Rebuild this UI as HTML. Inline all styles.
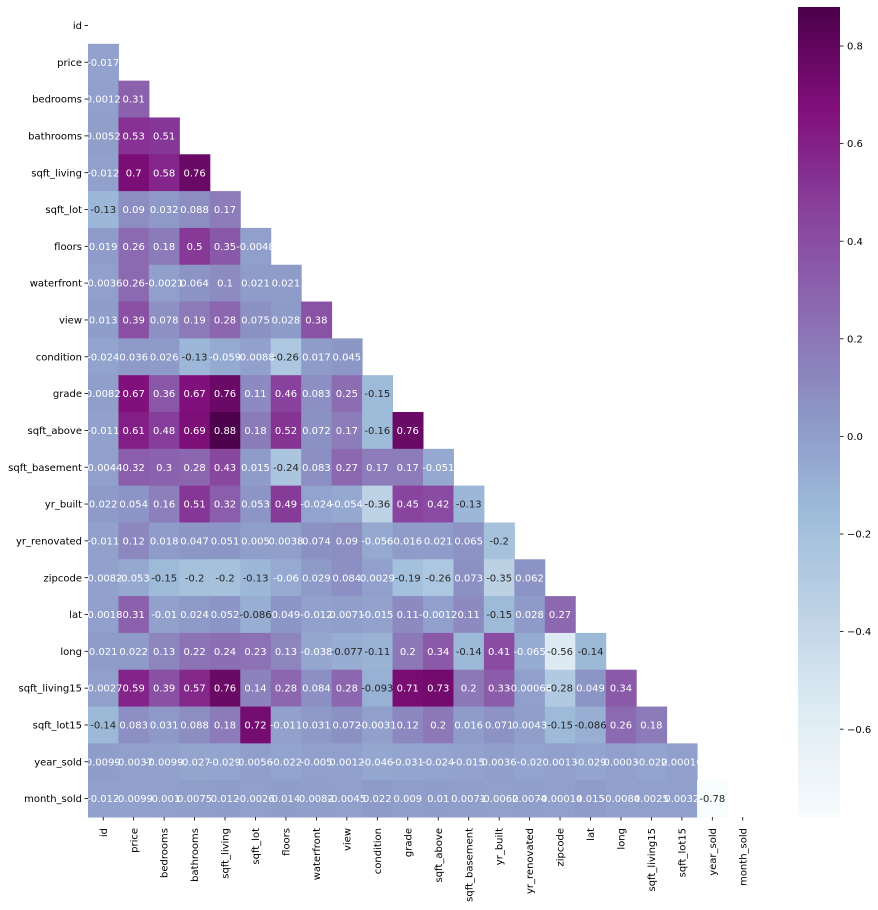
<!DOCTYPE html>
<html><head><meta charset="utf-8"><style>
html,body{margin:0;padding:0;background:#fff;}
svg{display:block;font-family:"DejaVu Sans","Liberation Sans",sans-serif;}
</style></head><body>
<svg id="chart" width="878" height="910" viewBox="0 0 878 910" xmlns="http://www.w3.org/2000/svg"></svg>
<script>
const labels = ["id","price","bedrooms","bathrooms","sqft_living","sqft_lot","floors","waterfront","view","condition","grade","sqft_above","sqft_basement","yr_built","yr_renovated","zipcode","lat","long","sqft_living15","sqft_lot15","year_sold","month_sold"];
const rowValues = [
 [],
 [-0.017],
 [0.0012,0.31],
 [0.0052,0.53,0.51],
 [-0.012,0.7,0.58,0.76],
 [-0.13,0.09,0.032,0.088,0.17],
 [0.019,0.26,0.18,0.5,0.35,-0.0048],
 [-0.0036,0.26,-0.0021,0.064,0.1,0.021,0.021],
 [0.013,0.39,0.078,0.19,0.28,0.075,0.028,0.38],
 [-0.024,0.036,0.026,-0.13,-0.059,-0.0088,-0.26,0.017,0.045],
 [0.0082,0.67,0.36,0.67,0.76,0.11,0.46,0.083,0.25,-0.15],
 [-0.011,0.61,0.48,0.69,0.88,0.18,0.52,0.072,0.17,-0.16,0.76],
 [-0.0044,0.32,0.3,0.28,0.43,0.015,-0.24,0.083,0.27,0.17,0.17,-0.051],
 [0.022,0.054,0.16,0.51,0.32,0.053,0.49,-0.024,-0.054,-0.36,0.45,0.42,-0.13],
 [-0.011,0.12,0.018,0.047,0.051,0.005,0.0038,0.074,0.09,-0.056,0.016,0.021,0.065,-0.2],
 [-0.0082,-0.053,-0.15,-0.2,-0.2,-0.13,-0.06,0.029,0.084,0.0029,-0.19,-0.26,0.073,-0.35,0.062],
 [-0.0018,0.31,-0.01,0.024,0.052,-0.086,0.049,-0.012,0.0071,-0.015,0.11,-0.0012,0.11,-0.15,0.028,0.27],
 [0.021,0.022,0.13,0.22,0.24,0.23,0.13,-0.038,-0.077,-0.11,0.2,0.34,-0.14,0.41,-0.065,-0.56,-0.14],
 [-0.0027,0.59,0.39,0.57,0.76,0.14,0.28,0.084,0.28,-0.093,0.71,0.73,0.2,0.33,-0.00066,-0.28,0.049,0.34],
 [-0.14,0.083,0.031,0.088,0.18,0.72,-0.011,0.031,0.072,-0.0031,0.12,0.2,0.016,0.071,0.0043,-0.15,-0.086,0.26,0.18],
 [0.0099,-0.0037,-0.0099,-0.027,-0.029,0.0056,-0.022,-0.005,0.0012,-0.046,-0.031,-0.024,-0.015,0.0036,-0.02,0.0013,-0.029,0.0003,-0.022,0.00016],
 [-0.012,-0.0099,-0.001,0.0075,0.012,-0.0026,0.014,0.0082,-0.0045,0.022,0.009,0.01,0.0071,-0.0062,0.0074,-0.00014,0.015,-0.0084,0.0025,0.0032,-0.78]
];
const colorbarTicks = [0.8,0.6,0.4,0.2,0.0,-0.2,-0.4,-0.6];
const vmin = -0.78, vmax = 0.88;

const svg = document.getElementById('chart');
const NS = 'http://www.w3.org/2000/svg';
const L = 88, T = 7, CW = 670/22, RH = 810/22;
const xs = j => L + j*CW;
const ys = i => T + i*RH;
const stops = ["#f7fcfd","#e0ecf4","#bfd3e6","#9ebcda","#8c96c6","#8c6bb1","#88419d","#810f7c","#4d004b"].map(h=>[parseInt(h.substr(1,2),16),parseInt(h.substr(3,2),16),parseInt(h.substr(5,2),16)]);
function cmap(t){t=Math.max(0,Math.min(1,t));const p=t*8,k=Math.min(7,Math.floor(p)),f=p-k;
 return stops[k].map((c,i)=>Math.round(c+(stops[k+1][i]-c)*f));}
function lum(c){const l=c.map(v=>{v/=255;return v<=0.03928?v/12.92:Math.pow((v+0.055)/1.055,2.4)});return 0.2126*l[0]+0.7152*l[1]+0.0722*l[2];}
const norm = v => (v-vmin)/(vmax-vmin);
function el(tag,attrs,text){const e=document.createElementNS(NS,tag);for(const k in attrs)e.setAttribute(k,attrs[k]);if(text!==undefined)e.textContent=text;svg.appendChild(e);return e;}

rowValues.forEach((row,i)=>{
 row.forEach((v,j)=>{
  const c=cmap(norm(v));
  const r=el('rect',{x:xs(j),y:ys(i),width:CW+0.5,height:RH+0.5,fill:`rgb(${c})`});
  
  
 });
});
rowValues.forEach((row,i)=>{
 row.forEach((v,j)=>{
  const c=cmap(norm(v));
  const t=el('text',{x:xs(j)+CW/2,y:ys(i)+RH/2+3.6,'font-size':10,'text-anchor':'middle',fill:lum(c)<0.408?'#fff':'#262626'},String(Number(v.toPrecision(2))));
  
  
 });
});
labels.forEach((lab,i)=>{
 const y=ys(i)+RH/2;
 el('line',{x1:L-3.5,x2:L,y1:y,y2:y,stroke:'#000','stroke-width':0.8});
 const t=el('text',{x:L-6,y:y+3.6,'font-size':10,'text-anchor':'end',fill:'#000'},lab);
 
 
 const x=xs(i)+CW/2;
 el('line',{x1:x,x2:x,y1:T+810,y2:T+813.5,stroke:'#000','stroke-width':0.8});
 const tx=el('text',{x:0,y:0,'font-size':10,'text-anchor':'end',fill:'#000',transform:`translate(${x+3.6},${T+821}) rotate(-90)`},lab);
 
 
});
// colorbar
const CBX=798, CBW=42, CBT=7, CBB=817;
const cy = v => CBB - (v-vmin)/(vmax-vmin)*(CBB-CBT);
const N=200;
for(let k=0;k<N;k++){
 const c=cmap((k+0.5)/N);
 const y0=CBB-(k+1)*(CBB-CBT)/N;
 const r=el('rect',{x:CBX,y:y0,width:CBW,height:(CBB-CBT)/N+0.6,fill:`rgb(${c})`});
 
 
}
colorbarTicks.forEach(v=>{
 const y=cy(v);
 el('line',{x1:CBX+CBW,x2:CBX+CBW+3.5,y1:y,y2:y,stroke:'#000','stroke-width':0.8});
 const t=el('text',{x:CBX+CBW+7,y:y+3.6,'font-size':10,fill:'#000'},v.toFixed(1).replace('-','\u2212'));
 
 
});
</script>
</body></html>
